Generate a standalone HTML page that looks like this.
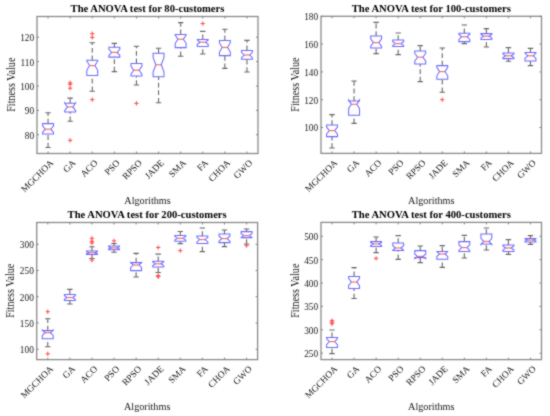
<!DOCTYPE html>
<html><head><meta charset="utf-8"><style>
html,body{margin:0;padding:0;background:#fff;}
body{width:550px;height:416px;overflow:hidden;}
svg{display:block;}
.t{font-family:"Liberation Serif",serif;font-size:9.3px;fill:#151515;}
.l{font-family:"Liberation Serif",serif;font-size:10.2px;fill:#151515;}
.ti{font-family:"Liberation Serif",serif;font-size:10.6px;font-weight:bold;fill:#000;}
</style></head><body>
<svg width="550" height="416" viewBox="0 0 550 416">
<defs><filter id="b" filterUnits="userSpaceOnUse" x="0" y="0" width="550" height="416" color-interpolation-filters="sRGB"><feConvolveMatrix order="3" kernelMatrix="1 2 1 2 12 2 1 2 1" divisor="24" edgeMode="duplicate"/></filter></defs>
<g filter="url(#b)">
<rect width="550" height="416" fill="#fff"/>
<path d="M48.05 123.6V112.7M48.05 147.5V133.9" stroke="#666666" stroke-width="1.1" stroke-dasharray="4.8,2.8" fill="none"/>
<path d="M45.35 112.7H50.75M45.35 147.5H50.75" stroke="#666666" stroke-width="1.1" fill="none"/>
<path d="M42.6 133.9 L42.6 132.39 L45.32 129.2 L42.6 126.01 L42.6 123.6 L53.5 123.6 L53.5 126.01 L50.77 129.2 L53.5 132.39 L53.5 133.9Z" stroke="#6a6aff" stroke-width="1.05" fill="none" stroke-linejoin="miter"/>
<path d="M45.32 129.2H50.77" stroke="#ff6060" stroke-width="1.1"/>
<path d="M70.15 103.3V98.1M70.15 121.3V112" stroke="#666666" stroke-width="1.1" stroke-dasharray="4.8,2.8" fill="none"/>
<path d="M67.45 98.1H72.85M67.45 121.3H72.85" stroke="#666666" stroke-width="1.1" fill="none"/>
<path d="M64.7 112 L64.7 110.6 L67.43 106.9 L64.7 102.9 L64.7 103.3 L75.6 103.3 L75.6 102.9 L72.88 106.9 L75.6 110.6 L75.6 112Z" stroke="#6a6aff" stroke-width="1.05" fill="none" stroke-linejoin="miter"/>
<path d="M67.43 106.9H72.88" stroke="#ff6060" stroke-width="1.1"/>
<path d="M67.95 82.8H72.35M70.15 80.6V85" stroke="#ff4848" stroke-width="1.0"/>
<path d="M67.95 84.3H72.35M70.15 82.1V86.5" stroke="#ff4848" stroke-width="1.0"/>
<path d="M67.95 88.2H72.35M70.15 86V90.4" stroke="#ff4848" stroke-width="1.0"/>
<path d="M67.95 140.3H72.35M70.15 138.1V142.5" stroke="#ff4848" stroke-width="1.0"/>
<path d="M92.25 60.3V42.8M92.25 91.2V75.4" stroke="#666666" stroke-width="1.1" stroke-dasharray="4.8,2.8" fill="none"/>
<path d="M89.55 42.8H94.95M89.55 91.2H94.95" stroke="#666666" stroke-width="1.1" fill="none"/>
<path d="M86.8 75.4 L86.8 70.28 L89.53 65.6 L86.8 60.92 L86.8 60.3 L97.7 60.3 L97.7 60.92 L94.97 65.6 L97.7 70.28 L97.7 75.4Z" stroke="#6a6aff" stroke-width="1.05" fill="none" stroke-linejoin="miter"/>
<path d="M89.53 65.6H94.97" stroke="#ff6060" stroke-width="1.1"/>
<path d="M90.05 33.7H94.45M92.25 31.5V35.9" stroke="#ff4848" stroke-width="1.0"/>
<path d="M90.05 37.4H94.45M92.25 35.2V39.6" stroke="#ff4848" stroke-width="1.0"/>
<path d="M90.05 99.6H94.45M92.25 97.4V101.8" stroke="#ff4848" stroke-width="1.0"/>
<path d="M114.35 47.2V43.4M114.35 71.6V57.1" stroke="#666666" stroke-width="1.1" stroke-dasharray="4.8,2.8" fill="none"/>
<path d="M111.65 43.4H117.05M111.65 71.6H117.05" stroke="#666666" stroke-width="1.1" fill="none"/>
<path d="M108.9 57.1 L108.9 55.47 L111.63 52.4 L108.9 49.33 L108.9 47.2 L119.8 47.2 L119.8 49.33 L117.08 52.4 L119.8 55.47 L119.8 57.1Z" stroke="#6a6aff" stroke-width="1.05" fill="none" stroke-linejoin="miter"/>
<path d="M111.63 52.4H117.08" stroke="#ff6060" stroke-width="1.1"/>
<path d="M136.45 63.4V46.2M136.45 85V76" stroke="#666666" stroke-width="1.1" stroke-dasharray="4.8,2.8" fill="none"/>
<path d="M133.75 46.2H139.15M133.75 85H139.15" stroke="#666666" stroke-width="1.1" fill="none"/>
<path d="M131 76 L131 74.11 L133.72 70.2 L131 66.29 L131 63.4 L141.9 63.4 L141.9 66.29 L139.17 70.2 L141.9 74.11 L141.9 76Z" stroke="#6a6aff" stroke-width="1.05" fill="none" stroke-linejoin="miter"/>
<path d="M133.72 70.2H139.17" stroke="#ff6060" stroke-width="1.1"/>
<path d="M134.25 103.4H138.65M136.45 101.2V105.6" stroke="#ff4848" stroke-width="1.0"/>
<path d="M158.55 53.3V48.2M158.55 102.7V76.8" stroke="#666666" stroke-width="1.1" stroke-dasharray="4.8,2.8" fill="none"/>
<path d="M155.85 48.2H161.25M155.85 102.7H161.25" stroke="#666666" stroke-width="1.1" fill="none"/>
<path d="M153.1 76.8 L153.1 72.08 L155.83 64.8 L153.1 57.52 L153.1 53.3 L164 53.3 L164 57.52 L161.28 64.8 L164 72.08 L164 76.8Z" stroke="#6a6aff" stroke-width="1.05" fill="none" stroke-linejoin="miter"/>
<path d="M155.83 64.8H161.28" stroke="#ff6060" stroke-width="1.1"/>
<path d="M180.65 34.4V22.6M180.65 56.2V47.6" stroke="#666666" stroke-width="1.1" stroke-dasharray="4.8,2.8" fill="none"/>
<path d="M177.95 22.6H183.35M177.95 56.2H183.35" stroke="#666666" stroke-width="1.1" fill="none"/>
<path d="M175.2 47.6 L175.2 43.29 L177.93 39.2 L175.2 35.11 L175.2 34.4 L186.1 34.4 L186.1 35.11 L183.38 39.2 L186.1 43.29 L186.1 47.6Z" stroke="#6a6aff" stroke-width="1.05" fill="none" stroke-linejoin="miter"/>
<path d="M177.93 39.2H183.38" stroke="#ff6060" stroke-width="1.1"/>
<path d="M202.75 39.4V31.4M202.75 54V46.4" stroke="#666666" stroke-width="1.1" stroke-dasharray="4.8,2.8" fill="none"/>
<path d="M200.05 31.4H205.45M200.05 54H205.45" stroke="#666666" stroke-width="1.1" fill="none"/>
<path d="M197.3 46.4 L197.3 44.37 L200.03 42.2 L197.3 40.03 L197.3 39.4 L208.2 39.4 L208.2 40.03 L205.47 42.2 L208.2 44.37 L208.2 46.4Z" stroke="#6a6aff" stroke-width="1.05" fill="none" stroke-linejoin="miter"/>
<path d="M200.03 42.2H205.47" stroke="#ff6060" stroke-width="1.1"/>
<path d="M200.55 23.6H204.95M202.75 21.4V25.8" stroke="#ff4848" stroke-width="1.0"/>
<path d="M224.85 40.4V29.2M224.85 68.4V55.6" stroke="#666666" stroke-width="1.1" stroke-dasharray="4.8,2.8" fill="none"/>
<path d="M222.15 29.2H227.55M222.15 68.4H227.55" stroke="#666666" stroke-width="1.1" fill="none"/>
<path d="M219.4 55.6 L219.4 52.11 L222.13 47.4 L219.4 42.69 L219.4 40.4 L230.3 40.4 L230.3 42.69 L227.58 47.4 L230.3 52.11 L230.3 55.6Z" stroke="#6a6aff" stroke-width="1.05" fill="none" stroke-linejoin="miter"/>
<path d="M222.13 47.4H227.58" stroke="#ff6060" stroke-width="1.1"/>
<path d="M246.95 50.4V40.4M246.95 72V59.2" stroke="#666666" stroke-width="1.1" stroke-dasharray="4.8,2.8" fill="none"/>
<path d="M244.25 40.4H249.65M244.25 72H249.65" stroke="#666666" stroke-width="1.1" fill="none"/>
<path d="M241.5 59.2 L241.5 57.73 L244.23 55 L241.5 52.27 L241.5 50.4 L252.4 50.4 L252.4 52.27 L249.68 55 L252.4 57.73 L252.4 59.2Z" stroke="#6a6aff" stroke-width="1.05" fill="none" stroke-linejoin="miter"/>
<path d="M244.23 55H249.68" stroke="#ff6060" stroke-width="1.1"/>
<rect x="37" y="16.5" width="221" height="137" fill="none" stroke="#8a8a8a" stroke-width="1.3"/>
<path d="M48.05 153.5V151.5M48.05 16.5V18.5M70.15 153.5V151.5M70.15 16.5V18.5M92.25 153.5V151.5M92.25 16.5V18.5M114.35 153.5V151.5M114.35 16.5V18.5M136.45 153.5V151.5M136.45 16.5V18.5M158.55 153.5V151.5M158.55 16.5V18.5M180.65 153.5V151.5M180.65 16.5V18.5M202.75 153.5V151.5M202.75 16.5V18.5M224.85 153.5V151.5M224.85 16.5V18.5M246.95 153.5V151.5M246.95 16.5V18.5M37 37.2H39M258 37.2H256M37 61.6H39M258 61.6H256M37 86H39M258 86H256M37 110.4H39M258 110.4H256M37 134.7H39M258 134.7H256" stroke="#777" stroke-width="0.9" fill="none"/>
<text x="34.1" y="38.1" class="t" text-anchor="end" dominant-baseline="central">120</text>
<text x="34.1" y="62.5" class="t" text-anchor="end" dominant-baseline="central">110</text>
<text x="34.1" y="86.9" class="t" text-anchor="end" dominant-baseline="central">100</text>
<text x="34.1" y="111.3" class="t" text-anchor="end" dominant-baseline="central">90</text>
<text x="34.1" y="135.6" class="t" text-anchor="end" dominant-baseline="central">80</text>
<text class="t" text-anchor="end" transform="translate(54.05 163.5) rotate(-45)">MGCHOA</text>
<text class="t" text-anchor="end" transform="translate(76.15 163.5) rotate(-45)">GA</text>
<text class="t" text-anchor="end" transform="translate(98.25 163.5) rotate(-45)">ACO</text>
<text class="t" text-anchor="end" transform="translate(120.35 163.5) rotate(-45)">PSO</text>
<text class="t" text-anchor="end" transform="translate(142.45 163.5) rotate(-45)">RPSO</text>
<text class="t" text-anchor="end" transform="translate(164.55 163.5) rotate(-45)">JADE</text>
<text class="t" text-anchor="end" transform="translate(186.65 163.5) rotate(-45)">SMA</text>
<text class="t" text-anchor="end" transform="translate(208.75 163.5) rotate(-45)">FA</text>
<text class="t" text-anchor="end" transform="translate(230.85 163.5) rotate(-45)">CHOA</text>
<text class="t" text-anchor="end" transform="translate(252.95 163.5) rotate(-45)">GWO</text>
<text x="147.5" y="11.8" class="ti" text-anchor="middle">The ANOVA test for 80-customers</text>
<text x="147.5" y="203.9" class="l" text-anchor="middle">Algorithms</text>
<text class="l" text-anchor="middle" textLength="54.2" lengthAdjust="spacingAndGlyphs" style="font-size:11.6px" transform="translate(14.7 84.7) rotate(-90)">Fitness Value</text>
<path d="M332.02 125V114.6M332.02 148V136.6" stroke="#666666" stroke-width="1.1" stroke-dasharray="4.8,2.8" fill="none"/>
<path d="M329.32 114.6H334.72M329.32 148H334.72" stroke="#666666" stroke-width="1.1" fill="none"/>
<path d="M326.57 136.6 L326.57 134.2 L329.3 130.6 L326.57 127 L326.57 125 L337.47 125 L337.47 127 L334.75 130.6 L337.47 134.2 L337.47 136.6Z" stroke="#6a6aff" stroke-width="1.05" fill="none" stroke-linejoin="miter"/>
<path d="M329.3 130.6H334.75" stroke="#ff6060" stroke-width="1.1"/>
<path d="M354.07 101V81M354.07 123.4V115.3" stroke="#666666" stroke-width="1.1" stroke-dasharray="4.8,2.8" fill="none"/>
<path d="M351.38 81H356.77M351.38 123.4H356.77" stroke="#666666" stroke-width="1.1" fill="none"/>
<path d="M348.62 115.3 L348.62 108.5 L351.35 104.3 L348.62 100.1 L348.62 101 L359.52 101 L359.52 100.1 L356.8 104.3 L359.52 108.5 L359.52 115.3Z" stroke="#6a6aff" stroke-width="1.05" fill="none" stroke-linejoin="miter"/>
<path d="M351.35 104.3H356.8" stroke="#ff6060" stroke-width="1.1"/>
<path d="M376.12 36V22.4M376.12 53.6V48" stroke="#666666" stroke-width="1.1" stroke-dasharray="4.8,2.8" fill="none"/>
<path d="M373.43 22.4H378.82M373.43 53.6H378.82" stroke="#666666" stroke-width="1.1" fill="none"/>
<path d="M370.68 48 L370.68 46.32 L373.4 42.6 L370.68 38.88 L370.68 36 L381.57 36 L381.57 38.88 L378.85 42.6 L381.57 46.32 L381.57 48Z" stroke="#6a6aff" stroke-width="1.05" fill="none" stroke-linejoin="miter"/>
<path d="M373.4 42.6H378.85" stroke="#ff6060" stroke-width="1.1"/>
<path d="M398.18 40V33M398.18 54.6V46.4" stroke="#666666" stroke-width="1.1" stroke-dasharray="4.8,2.8" fill="none"/>
<path d="M395.48 33H400.88M395.48 54.6H400.88" stroke="#666666" stroke-width="1.1" fill="none"/>
<path d="M392.73 46.4 L392.73 45.58 L395.45 43.6 L392.73 41.62 L392.73 40 L403.62 40 L403.62 41.62 L400.9 43.6 L403.62 45.58 L403.62 46.4Z" stroke="#6a6aff" stroke-width="1.05" fill="none" stroke-linejoin="miter"/>
<path d="M395.45 43.6H400.9" stroke="#ff6060" stroke-width="1.1"/>
<path d="M420.23 51V45.6M420.23 81.6V64" stroke="#666666" stroke-width="1.1" stroke-dasharray="4.8,2.8" fill="none"/>
<path d="M417.53 45.6H422.93M417.53 81.6H422.93" stroke="#666666" stroke-width="1.1" fill="none"/>
<path d="M414.78 64 L414.78 61.23 L417.5 57.2 L414.78 53.17 L414.78 51 L425.68 51 L425.68 53.17 L422.95 57.2 L425.68 61.23 L425.68 64Z" stroke="#6a6aff" stroke-width="1.05" fill="none" stroke-linejoin="miter"/>
<path d="M417.5 57.2H422.95" stroke="#ff6060" stroke-width="1.1"/>
<path d="M442.27 65.6V48M442.27 92.2V79.2" stroke="#666666" stroke-width="1.1" stroke-dasharray="4.8,2.8" fill="none"/>
<path d="M439.57 48H444.97M439.57 92.2H444.97" stroke="#666666" stroke-width="1.1" fill="none"/>
<path d="M436.82 79.2 L436.82 75.82 L439.55 71.6 L436.82 67.38 L436.82 65.6 L447.72 65.6 L447.72 67.38 L445 71.6 L447.72 75.82 L447.72 79.2Z" stroke="#6a6aff" stroke-width="1.05" fill="none" stroke-linejoin="miter"/>
<path d="M439.55 71.6H445" stroke="#ff6060" stroke-width="1.1"/>
<path d="M440.07 99.7H444.47M442.27 97.5V101.9" stroke="#ff4848" stroke-width="1.0"/>
<path d="M464.33 33.2V25M464.33 43.6V41.6" stroke="#666666" stroke-width="1.1" stroke-dasharray="4.8,2.8" fill="none"/>
<path d="M461.63 25H467.03M461.63 43.6H467.03" stroke="#666666" stroke-width="1.1" fill="none"/>
<path d="M458.88 41.6 L458.88 39.4 L461.6 36.8 L458.88 34.2 L458.88 33.2 L469.78 33.2 L469.78 34.2 L467.05 36.8 L469.78 39.4 L469.78 41.6Z" stroke="#6a6aff" stroke-width="1.05" fill="none" stroke-linejoin="miter"/>
<path d="M461.6 36.8H467.05" stroke="#ff6060" stroke-width="1.1"/>
<path d="M486.38 33.6V28.6M486.38 47V39.4" stroke="#666666" stroke-width="1.1" stroke-dasharray="4.8,2.8" fill="none"/>
<path d="M483.68 28.6H489.07M483.68 47H489.07" stroke="#666666" stroke-width="1.1" fill="none"/>
<path d="M480.93 39.4 L480.93 38 L483.65 36.2 L480.93 34.4 L480.93 33.6 L491.82 33.6 L491.82 34.4 L489.1 36.2 L491.82 38 L491.82 39.4Z" stroke="#6a6aff" stroke-width="1.05" fill="none" stroke-linejoin="miter"/>
<path d="M483.65 36.2H489.1" stroke="#ff6060" stroke-width="1.1"/>
<path d="M508.43 53V47.6M508.43 61.2V58.6" stroke="#666666" stroke-width="1.1" stroke-dasharray="4.8,2.8" fill="none"/>
<path d="M505.73 47.6H511.12M505.73 61.2H511.12" stroke="#666666" stroke-width="1.1" fill="none"/>
<path d="M502.98 58.6 L502.98 57.54 L505.7 55.8 L502.98 54.06 L502.98 53 L513.88 53 L513.88 54.06 L511.15 55.8 L513.88 57.54 L513.88 58.6Z" stroke="#6a6aff" stroke-width="1.05" fill="none" stroke-linejoin="miter"/>
<path d="M505.7 55.8H511.15" stroke="#ff6060" stroke-width="1.1"/>
<path d="M530.48 52.4V48.4M530.48 65.6V61" stroke="#666666" stroke-width="1.1" stroke-dasharray="4.8,2.8" fill="none"/>
<path d="M527.77 48.4H533.18M527.77 65.6H533.18" stroke="#666666" stroke-width="1.1" fill="none"/>
<path d="M525.02 61 L525.02 58.47 L527.75 55.8 L525.02 53.13 L525.02 52.4 L535.93 52.4 L535.93 53.13 L533.2 55.8 L535.93 58.47 L535.93 61Z" stroke="#6a6aff" stroke-width="1.05" fill="none" stroke-linejoin="miter"/>
<path d="M527.75 55.8H533.2" stroke="#ff6060" stroke-width="1.1"/>
<rect x="321" y="16.3" width="220.5" height="137.1" fill="none" stroke="#8a8a8a" stroke-width="1.3"/>
<path d="M332.02 153.4V151.4M332.02 16.3V18.3M354.07 153.4V151.4M354.07 16.3V18.3M376.12 153.4V151.4M376.12 16.3V18.3M398.18 153.4V151.4M398.18 16.3V18.3M420.23 153.4V151.4M420.23 16.3V18.3M442.27 153.4V151.4M442.27 16.3V18.3M464.33 153.4V151.4M464.33 16.3V18.3M486.38 153.4V151.4M486.38 16.3V18.3M508.43 153.4V151.4M508.43 16.3V18.3M530.48 153.4V151.4M530.48 16.3V18.3M321 16.3H323M541.5 16.3H539.5M321 44.1H323M541.5 44.1H539.5M321 71.9H323M541.5 71.9H539.5M321 99.7H323M541.5 99.7H539.5M321 127.5H323M541.5 127.5H539.5" stroke="#777" stroke-width="0.9" fill="none"/>
<text x="318.1" y="17.2" class="t" text-anchor="end" dominant-baseline="central">180</text>
<text x="318.1" y="45" class="t" text-anchor="end" dominant-baseline="central">160</text>
<text x="318.1" y="72.8" class="t" text-anchor="end" dominant-baseline="central">140</text>
<text x="318.1" y="100.6" class="t" text-anchor="end" dominant-baseline="central">120</text>
<text x="318.1" y="128.4" class="t" text-anchor="end" dominant-baseline="central">100</text>
<text class="t" text-anchor="end" transform="translate(338.02 163.4) rotate(-45)">MGCHOA</text>
<text class="t" text-anchor="end" transform="translate(360.07 163.4) rotate(-45)">GA</text>
<text class="t" text-anchor="end" transform="translate(382.12 163.4) rotate(-45)">ACO</text>
<text class="t" text-anchor="end" transform="translate(404.18 163.4) rotate(-45)">PSO</text>
<text class="t" text-anchor="end" transform="translate(426.23 163.4) rotate(-45)">RPSO</text>
<text class="t" text-anchor="end" transform="translate(448.27 163.4) rotate(-45)">JADE</text>
<text class="t" text-anchor="end" transform="translate(470.33 163.4) rotate(-45)">SMA</text>
<text class="t" text-anchor="end" transform="translate(492.38 163.4) rotate(-45)">FA</text>
<text class="t" text-anchor="end" transform="translate(514.42 163.4) rotate(-45)">CHOA</text>
<text class="t" text-anchor="end" transform="translate(536.48 163.4) rotate(-45)">GWO</text>
<text x="431.25" y="11.6" class="ti" text-anchor="middle">The ANOVA test for 100-customers</text>
<text x="431.25" y="203.8" class="l" text-anchor="middle">Algorithms</text>
<text class="l" text-anchor="middle" textLength="54.2" lengthAdjust="spacingAndGlyphs" style="font-size:11.6px" transform="translate(298.7 84.55) rotate(-90)">Fitness Value</text>
<path d="M47.75 330.6V318.7M47.75 346.7V338.8" stroke="#666666" stroke-width="1.1" stroke-dasharray="4.8,2.8" fill="none"/>
<path d="M45.05 318.7H50.45M45.05 346.7H50.45" stroke="#666666" stroke-width="1.1" fill="none"/>
<path d="M42.3 338.8 L42.3 335.4 L45.02 332.7 L42.3 330 L42.3 330.6 L53.2 330.6 L53.2 330 L50.47 332.7 L53.2 335.4 L53.2 338.8Z" stroke="#6a6aff" stroke-width="1.05" fill="none" stroke-linejoin="miter"/>
<path d="M45.02 332.7H50.47" stroke="#ff6060" stroke-width="1.1"/>
<path d="M45.55 311.7H49.95M47.75 309.5V313.9" stroke="#ff4848" stroke-width="1.0"/>
<path d="M45.55 353.8H49.95M47.75 351.6V356" stroke="#ff4848" stroke-width="1.0"/>
<path d="M69.84 294.4V289.4M69.84 304V300.4" stroke="#666666" stroke-width="1.1" stroke-dasharray="4.8,2.8" fill="none"/>
<path d="M67.14 289.4H72.54M67.14 304H72.54" stroke="#666666" stroke-width="1.1" fill="none"/>
<path d="M64.39 300.4 L64.39 299.36 L67.11 297.5 L64.39 295.64 L64.39 294.4 L75.29 294.4 L75.29 295.64 L72.56 297.5 L75.29 299.36 L75.29 300.4Z" stroke="#6a6aff" stroke-width="1.05" fill="none" stroke-linejoin="miter"/>
<path d="M67.11 297.5H72.56" stroke="#ff6060" stroke-width="1.1"/>
<path d="M91.93 250.9V246.8M91.93 258.5V254.5" stroke="#666666" stroke-width="1.1" stroke-dasharray="4.8,2.8" fill="none"/>
<path d="M89.23 246.8H94.63M89.23 258.5H94.63" stroke="#666666" stroke-width="1.1" fill="none"/>
<path d="M86.48 254.5 L86.48 253.92 L89.2 252.8 L86.48 251.68 L86.48 250.9 L97.38 250.9 L97.38 251.68 L94.65 252.8 L97.38 253.92 L97.38 254.5Z" stroke="#6a6aff" stroke-width="1.05" fill="none" stroke-linejoin="miter"/>
<path d="M89.2 252.8H94.65" stroke="#ff6060" stroke-width="1.1"/>
<path d="M89.73 238.3H94.13M91.93 236.1V240.5" stroke="#ff4848" stroke-width="1.0"/>
<path d="M89.73 241.3H94.13M91.93 239.1V243.5" stroke="#ff4848" stroke-width="1.0"/>
<path d="M89.73 243H94.13M91.93 240.8V245.2" stroke="#ff4848" stroke-width="1.0"/>
<path d="M89.73 260.2H94.13M91.93 258V262.4" stroke="#ff4848" stroke-width="1.0"/>
<path d="M114.02 246V243.5M114.02 252.3V249.8" stroke="#666666" stroke-width="1.1" stroke-dasharray="4.8,2.8" fill="none"/>
<path d="M111.32 243.5H116.72M111.32 252.3H116.72" stroke="#666666" stroke-width="1.1" fill="none"/>
<path d="M108.57 249.8 L108.57 249.08 L111.29 247.9 L108.57 246.72 L108.57 246 L119.47 246 L119.47 246.72 L116.74 247.9 L119.47 249.08 L119.47 249.8Z" stroke="#6a6aff" stroke-width="1.05" fill="none" stroke-linejoin="miter"/>
<path d="M111.29 247.9H116.74" stroke="#ff6060" stroke-width="1.1"/>
<path d="M111.82 240.9H116.22M114.02 238.7V243.1" stroke="#ff4848" stroke-width="1.0"/>
<path d="M136.11 262.6V253.4M136.11 277V270.6" stroke="#666666" stroke-width="1.1" stroke-dasharray="4.8,2.8" fill="none"/>
<path d="M133.41 253.4H138.81M133.41 277H138.81" stroke="#666666" stroke-width="1.1" fill="none"/>
<path d="M130.66 270.6 L130.66 267.48 L133.38 265 L130.66 262.52 L130.66 262.6 L141.56 262.6 L141.56 262.52 L138.83 265 L141.56 267.48 L141.56 270.6Z" stroke="#6a6aff" stroke-width="1.05" fill="none" stroke-linejoin="miter"/>
<path d="M133.38 265H138.83" stroke="#ff6060" stroke-width="1.1"/>
<path d="M158.2 261.3V254.1M158.2 272.5V266.9" stroke="#666666" stroke-width="1.1" stroke-dasharray="4.8,2.8" fill="none"/>
<path d="M155.5 254.1H160.9M155.5 272.5H160.9" stroke="#666666" stroke-width="1.1" fill="none"/>
<path d="M152.75 266.9 L152.75 265.54 L155.47 263.8 L152.75 262.06 L152.75 261.3 L163.65 261.3 L163.65 262.06 L160.92 263.8 L163.65 265.54 L163.65 266.9Z" stroke="#6a6aff" stroke-width="1.05" fill="none" stroke-linejoin="miter"/>
<path d="M155.47 263.8H160.92" stroke="#ff6060" stroke-width="1.1"/>
<path d="M156 247.5H160.4M158.2 245.3V249.7" stroke="#ff4848" stroke-width="1.0"/>
<path d="M156 275.6H160.4M158.2 273.4V277.8" stroke="#ff4848" stroke-width="1.0"/>
<path d="M156 276.8H160.4M158.2 274.6V279" stroke="#ff4848" stroke-width="1.0"/>
<path d="M180.29 235.5V231.5M180.29 243.6V241.2" stroke="#666666" stroke-width="1.1" stroke-dasharray="4.8,2.8" fill="none"/>
<path d="M177.59 231.5H182.99M177.59 243.6H182.99" stroke="#666666" stroke-width="1.1" fill="none"/>
<path d="M174.84 241.2 L174.84 240.07 L177.56 238.3 L174.84 236.53 L174.84 235.5 L185.74 235.5 L185.74 236.53 L183.01 238.3 L185.74 240.07 L185.74 241.2Z" stroke="#6a6aff" stroke-width="1.05" fill="none" stroke-linejoin="miter"/>
<path d="M177.56 238.3H183.01" stroke="#ff6060" stroke-width="1.1"/>
<path d="M178.09 250.6H182.49M180.29 248.4V252.8" stroke="#ff4848" stroke-width="1.0"/>
<path d="M202.38 236V228M202.38 251.6V243.4" stroke="#666666" stroke-width="1.1" stroke-dasharray="4.8,2.8" fill="none"/>
<path d="M199.68 228H205.07M199.68 251.6H205.07" stroke="#666666" stroke-width="1.1" fill="none"/>
<path d="M196.93 243.4 L196.93 241.89 L199.65 239.6 L196.93 237.31 L196.93 236 L207.82 236 L207.82 237.31 L205.1 239.6 L207.82 241.89 L207.82 243.4Z" stroke="#6a6aff" stroke-width="1.05" fill="none" stroke-linejoin="miter"/>
<path d="M199.65 239.6H205.1" stroke="#ff6060" stroke-width="1.1"/>
<path d="M224.47 234V230M224.47 246.6V242.6" stroke="#666666" stroke-width="1.1" stroke-dasharray="4.8,2.8" fill="none"/>
<path d="M221.77 230H227.17M221.77 246.6H227.17" stroke="#666666" stroke-width="1.1" fill="none"/>
<path d="M219.02 242.6 L219.02 241.27 L221.74 238.6 L219.02 235.93 L219.02 234 L229.92 234 L229.92 235.93 L227.19 238.6 L229.92 241.27 L229.92 242.6Z" stroke="#6a6aff" stroke-width="1.05" fill="none" stroke-linejoin="miter"/>
<path d="M221.74 238.6H227.19" stroke="#ff6060" stroke-width="1.1"/>
<path d="M246.56 231.6V229M246.56 244V237.6" stroke="#666666" stroke-width="1.1" stroke-dasharray="4.8,2.8" fill="none"/>
<path d="M243.86 229H249.25M243.86 244H249.25" stroke="#666666" stroke-width="1.1" fill="none"/>
<path d="M241.11 237.6 L241.11 237.46 L243.83 235.6 L241.11 233.74 L241.11 231.6 L252 231.6 L252 233.74 L249.28 235.6 L252 237.46 L252 237.6Z" stroke="#6a6aff" stroke-width="1.05" fill="none" stroke-linejoin="miter"/>
<path d="M243.83 235.6H249.28" stroke="#ff6060" stroke-width="1.1"/>
<path d="M244.36 245.6H248.75M246.56 243.4V247.8" stroke="#ff4848" stroke-width="1.0"/>
<rect x="36.7" y="222.5" width="220.9" height="137.1" fill="none" stroke="#8a8a8a" stroke-width="1.3"/>
<path d="M47.75 359.6V357.6M47.75 222.5V224.5M69.84 359.6V357.6M69.84 222.5V224.5M91.93 359.6V357.6M91.93 222.5V224.5M114.02 359.6V357.6M114.02 222.5V224.5M136.11 359.6V357.6M136.11 222.5V224.5M158.2 359.6V357.6M158.2 222.5V224.5M180.29 359.6V357.6M180.29 222.5V224.5M202.38 359.6V357.6M202.38 222.5V224.5M224.47 359.6V357.6M224.47 222.5V224.5M246.56 359.6V357.6M246.56 222.5V224.5M36.7 244.3H38.7M257.6 244.3H255.6M36.7 270.5H38.7M257.6 270.5H255.6M36.7 296.7H38.7M257.6 296.7H255.6M36.7 323H38.7M257.6 323H255.6M36.7 349.3H38.7M257.6 349.3H255.6" stroke="#777" stroke-width="0.9" fill="none"/>
<text x="33.8" y="245.2" class="t" text-anchor="end" dominant-baseline="central">300</text>
<text x="33.8" y="271.4" class="t" text-anchor="end" dominant-baseline="central">250</text>
<text x="33.8" y="297.6" class="t" text-anchor="end" dominant-baseline="central">200</text>
<text x="33.8" y="323.9" class="t" text-anchor="end" dominant-baseline="central">150</text>
<text x="33.8" y="350.2" class="t" text-anchor="end" dominant-baseline="central">100</text>
<text class="t" text-anchor="end" transform="translate(53.75 369.6) rotate(-45)">MGCHOA</text>
<text class="t" text-anchor="end" transform="translate(75.84 369.6) rotate(-45)">GA</text>
<text class="t" text-anchor="end" transform="translate(97.93 369.6) rotate(-45)">ACO</text>
<text class="t" text-anchor="end" transform="translate(120.02 369.6) rotate(-45)">PSO</text>
<text class="t" text-anchor="end" transform="translate(142.11 369.6) rotate(-45)">RPSO</text>
<text class="t" text-anchor="end" transform="translate(164.2 369.6) rotate(-45)">JADE</text>
<text class="t" text-anchor="end" transform="translate(186.29 369.6) rotate(-45)">SMA</text>
<text class="t" text-anchor="end" transform="translate(208.38 369.6) rotate(-45)">FA</text>
<text class="t" text-anchor="end" transform="translate(230.47 369.6) rotate(-45)">CHOA</text>
<text class="t" text-anchor="end" transform="translate(252.56 369.6) rotate(-45)">GWO</text>
<text x="147.15" y="217.8" class="ti" text-anchor="middle">The ANOVA test for 200-customers</text>
<text x="147.15" y="410" class="l" text-anchor="middle">Algorithms</text>
<text class="l" text-anchor="middle" textLength="54.2" lengthAdjust="spacingAndGlyphs" style="font-size:11.6px" transform="translate(14.4 290.75) rotate(-90)">Fitness Value</text>
<path d="M332.02 337.4V330M332.02 353.6V347.4" stroke="#666666" stroke-width="1.1" stroke-dasharray="4.8,2.8" fill="none"/>
<path d="M329.32 330H334.72M329.32 353.6H334.72" stroke="#666666" stroke-width="1.1" fill="none"/>
<path d="M326.57 347.4 L326.57 344.7 L329.3 341.6 L326.57 338.5 L326.57 337.4 L337.47 337.4 L337.47 338.5 L334.75 341.6 L337.47 344.7 L337.47 347.4Z" stroke="#6a6aff" stroke-width="1.05" fill="none" stroke-linejoin="miter"/>
<path d="M329.3 341.6H334.75" stroke="#ff6060" stroke-width="1.1"/>
<path d="M329.82 320.6H334.22M332.02 318.4V322.8" stroke="#ff4848" stroke-width="1.0"/>
<path d="M329.82 322.2H334.22M332.02 320V324.4" stroke="#ff4848" stroke-width="1.0"/>
<path d="M329.82 323.8H334.22M332.02 321.6V326" stroke="#ff4848" stroke-width="1.0"/>
<path d="M354.07 276.4V267.6M354.07 298.5V288.4" stroke="#666666" stroke-width="1.1" stroke-dasharray="4.8,2.8" fill="none"/>
<path d="M351.38 267.6H356.77M351.38 298.5H356.77" stroke="#666666" stroke-width="1.1" fill="none"/>
<path d="M348.62 288.4 L348.62 285.72 L351.35 282 L348.62 278.28 L348.62 276.4 L359.52 276.4 L359.52 278.28 L356.8 282 L359.52 285.72 L359.52 288.4Z" stroke="#6a6aff" stroke-width="1.05" fill="none" stroke-linejoin="miter"/>
<path d="M351.35 282H356.8" stroke="#ff6060" stroke-width="1.1"/>
<path d="M376.12 241.6V237M376.12 252.6V246.4" stroke="#666666" stroke-width="1.1" stroke-dasharray="4.8,2.8" fill="none"/>
<path d="M373.43 237H378.82M373.43 252.6H378.82" stroke="#666666" stroke-width="1.1" fill="none"/>
<path d="M370.68 246.4 L370.68 245.49 L373.4 244 L370.68 242.51 L370.68 241.6 L381.57 241.6 L381.57 242.51 L378.85 244 L381.57 245.49 L381.57 246.4Z" stroke="#6a6aff" stroke-width="1.05" fill="none" stroke-linejoin="miter"/>
<path d="M373.4 244H378.85" stroke="#ff6060" stroke-width="1.1"/>
<path d="M373.93 258.4H378.32M376.12 256.2V260.6" stroke="#ff4848" stroke-width="1.0"/>
<path d="M398.18 243V235.6M398.18 259.4V250.4" stroke="#666666" stroke-width="1.1" stroke-dasharray="4.8,2.8" fill="none"/>
<path d="M395.48 235.6H400.88M395.48 259.4H400.88" stroke="#666666" stroke-width="1.1" fill="none"/>
<path d="M392.73 250.4 L392.73 250.29 L395.45 248 L392.73 245.71 L392.73 243 L403.62 243 L403.62 245.71 L400.9 248 L403.62 250.29 L403.62 250.4Z" stroke="#6a6aff" stroke-width="1.05" fill="none" stroke-linejoin="miter"/>
<path d="M395.45 248H400.9" stroke="#ff6060" stroke-width="1.1"/>
<path d="M420.23 250.6V246M420.23 262.6V257.6" stroke="#666666" stroke-width="1.1" stroke-dasharray="4.8,2.8" fill="none"/>
<path d="M417.53 246H422.93M417.53 262.6H422.93" stroke="#666666" stroke-width="1.1" fill="none"/>
<path d="M414.78 257.6 L414.78 258.57 L417.5 256.4 L414.78 254.23 L414.78 250.6 L425.68 250.6 L425.68 254.23 L422.95 256.4 L425.68 258.57 L425.68 257.6Z" stroke="#6a6aff" stroke-width="1.05" fill="none" stroke-linejoin="miter"/>
<path d="M417.5 256.4H422.95" stroke="#ff6060" stroke-width="1.1"/>
<path d="M442.27 251.4V245.6M442.27 267.4V259.2" stroke="#666666" stroke-width="1.1" stroke-dasharray="4.8,2.8" fill="none"/>
<path d="M439.57 245.6H444.97M439.57 267.4H444.97" stroke="#666666" stroke-width="1.1" fill="none"/>
<path d="M436.82 259.2 L436.82 256.42 L439.55 254 L436.82 251.58 L436.82 251.4 L447.72 251.4 L447.72 251.58 L445 254 L447.72 256.42 L447.72 259.2Z" stroke="#6a6aff" stroke-width="1.05" fill="none" stroke-linejoin="miter"/>
<path d="M439.55 254H445" stroke="#ff6060" stroke-width="1.1"/>
<path d="M464.33 241.6V235.4M464.33 258V251.4" stroke="#666666" stroke-width="1.1" stroke-dasharray="4.8,2.8" fill="none"/>
<path d="M461.63 235.4H467.03M461.63 258H467.03" stroke="#666666" stroke-width="1.1" fill="none"/>
<path d="M458.88 251.4 L458.88 250.64 L461.6 247.6 L458.88 244.56 L458.88 241.6 L469.78 241.6 L469.78 244.56 L467.05 247.6 L469.78 250.64 L469.78 251.4Z" stroke="#6a6aff" stroke-width="1.05" fill="none" stroke-linejoin="miter"/>
<path d="M461.6 247.6H467.05" stroke="#ff6060" stroke-width="1.1"/>
<path d="M486.38 234V228M486.38 250V244" stroke="#666666" stroke-width="1.1" stroke-dasharray="4.8,2.8" fill="none"/>
<path d="M483.68 228H489.07M483.68 250H489.07" stroke="#666666" stroke-width="1.1" fill="none"/>
<path d="M480.93 244 L480.93 244.5 L483.65 241.4 L480.93 238.3 L480.93 234 L491.82 234 L491.82 238.3 L489.1 241.4 L491.82 244.5 L491.82 244Z" stroke="#6a6aff" stroke-width="1.05" fill="none" stroke-linejoin="miter"/>
<path d="M483.65 241.4H489.1" stroke="#ff6060" stroke-width="1.1"/>
<path d="M508.43 245V239.6M508.43 254.4V251.4" stroke="#666666" stroke-width="1.1" stroke-dasharray="4.8,2.8" fill="none"/>
<path d="M505.73 239.6H511.12M505.73 254.4H511.12" stroke="#666666" stroke-width="1.1" fill="none"/>
<path d="M502.98 251.4 L502.98 249.98 L505.7 248 L502.98 246.02 L502.98 245 L513.88 245 L513.88 246.02 L511.15 248 L513.88 249.98 L513.88 251.4Z" stroke="#6a6aff" stroke-width="1.05" fill="none" stroke-linejoin="miter"/>
<path d="M505.7 248H511.15" stroke="#ff6060" stroke-width="1.1"/>
<path d="M530.48 238.4V235.6M530.48 244.4V242" stroke="#666666" stroke-width="1.1" stroke-dasharray="4.8,2.8" fill="none"/>
<path d="M527.77 235.6H533.18M527.77 244.4H533.18" stroke="#666666" stroke-width="1.1" fill="none"/>
<path d="M525.02 242 L525.02 241.12 L527.75 240 L525.02 238.88 L525.02 238.4 L535.93 238.4 L535.93 238.88 L533.2 240 L535.93 241.12 L535.93 242Z" stroke="#6a6aff" stroke-width="1.05" fill="none" stroke-linejoin="miter"/>
<path d="M527.75 240H533.2" stroke="#ff6060" stroke-width="1.1"/>
<rect x="321" y="222.4" width="220.5" height="137.2" fill="none" stroke="#8a8a8a" stroke-width="1.3"/>
<path d="M332.02 359.6V357.6M332.02 222.4V224.4M354.07 359.6V357.6M354.07 222.4V224.4M376.12 359.6V357.6M376.12 222.4V224.4M398.18 359.6V357.6M398.18 222.4V224.4M420.23 359.6V357.6M420.23 222.4V224.4M442.27 359.6V357.6M442.27 222.4V224.4M464.33 359.6V357.6M464.33 222.4V224.4M486.38 359.6V357.6M486.38 222.4V224.4M508.43 359.6V357.6M508.43 222.4V224.4M530.48 359.6V357.6M530.48 222.4V224.4M321 236.3H323M541.5 236.3H539.5M321 259.6H323M541.5 259.6H539.5M321 283H323M541.5 283H539.5M321 306.4H323M541.5 306.4H539.5M321 329.8H323M541.5 329.8H539.5M321 353.2H323M541.5 353.2H539.5" stroke="#777" stroke-width="0.9" fill="none"/>
<text x="318.1" y="237.2" class="t" text-anchor="end" dominant-baseline="central">500</text>
<text x="318.1" y="260.5" class="t" text-anchor="end" dominant-baseline="central">450</text>
<text x="318.1" y="283.9" class="t" text-anchor="end" dominant-baseline="central">400</text>
<text x="318.1" y="307.3" class="t" text-anchor="end" dominant-baseline="central">350</text>
<text x="318.1" y="330.7" class="t" text-anchor="end" dominant-baseline="central">300</text>
<text x="318.1" y="354.1" class="t" text-anchor="end" dominant-baseline="central">250</text>
<text class="t" text-anchor="end" transform="translate(338.02 369.6) rotate(-45)">MGCHOA</text>
<text class="t" text-anchor="end" transform="translate(360.07 369.6) rotate(-45)">GA</text>
<text class="t" text-anchor="end" transform="translate(382.12 369.6) rotate(-45)">ACO</text>
<text class="t" text-anchor="end" transform="translate(404.18 369.6) rotate(-45)">PSO</text>
<text class="t" text-anchor="end" transform="translate(426.23 369.6) rotate(-45)">RPSO</text>
<text class="t" text-anchor="end" transform="translate(448.27 369.6) rotate(-45)">JADE</text>
<text class="t" text-anchor="end" transform="translate(470.33 369.6) rotate(-45)">SMA</text>
<text class="t" text-anchor="end" transform="translate(492.38 369.6) rotate(-45)">FA</text>
<text class="t" text-anchor="end" transform="translate(514.42 369.6) rotate(-45)">CHOA</text>
<text class="t" text-anchor="end" transform="translate(536.48 369.6) rotate(-45)">GWO</text>
<text x="431.25" y="217.7" class="ti" text-anchor="middle">The ANOVA test for 400-customers</text>
<text x="431.25" y="410" class="l" text-anchor="middle">Algorithms</text>
<text class="l" text-anchor="middle" textLength="54.2" lengthAdjust="spacingAndGlyphs" style="font-size:11.6px" transform="translate(298.7 290.7) rotate(-90)">Fitness Value</text>
</g>
</svg>
</body></html>
